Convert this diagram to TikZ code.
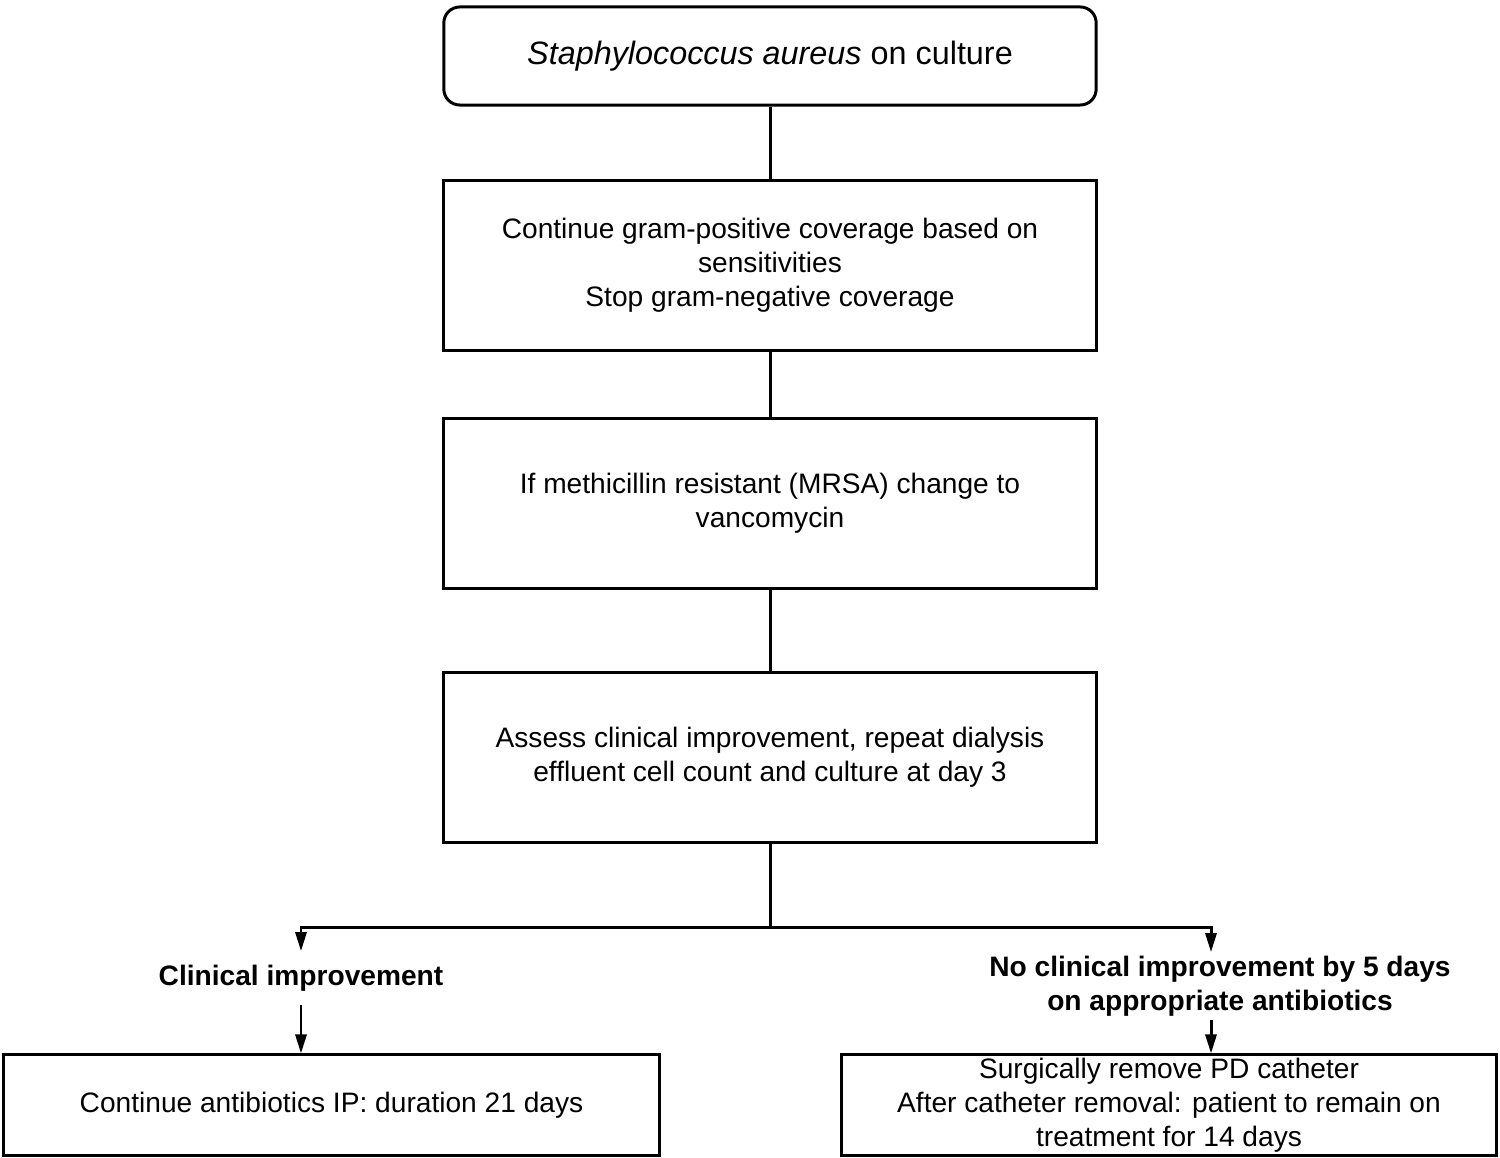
\documentclass[tikz,border=0pt]{standalone}
\usepackage{fontspec}
\setmainfont{Liberation Sans}
\usetikzlibrary{arrows.meta,calc}
\begin{document}
\begin{tikzpicture}[x=0.01cm,y=-0.01cm,
  box/.style={draw,line width=0.85pt,minimum width=6.52cm,align=center,inner sep=0pt,
    font=\fontsize{8pt}{9.67pt}\selectfont},
  lbl/.style={align=center,inner xsep=0pt,font=\bfseries\fontsize{8pt}{9.67pt}\selectfont},
  conn/.style={line width=0.85pt},
  arr/.style={line width=0.85pt,-{Triangle[length=0.19cm,width=0.11cm]}}]
\useasboundingbox (0,0) rectangle (1500,1158);
\node[box,rounded corners=0.16cm,minimum height=0.98cm,font=\fontsize{9.2pt}{11pt}\selectfont] (b1) at (770,56) {\textit{Staphylococcus aureus} on culture};
\node[box,minimum height=1.69cm] (b2) at (770,265.5) {Continue gram-positive coverage based on\\sensitivities\\Stop gram-negative coverage};
\node[box,minimum height=1.69cm] (b3) at (770,503.5) {If methicillin resistant (MRSA) change to\\vancomycin};
\node[box,minimum height=1.69cm] (b4) at (770,757.5) {Assess clinical improvement, repeat dialysis\\effluent cell count and culture at day 3};
\node[box,minimum width=6.55cm,minimum height=1.0cm] (b5) at (331.5,1105) {Continue antibiotics IP: duration 21 days};
\node[box,minimum width=6.54cm,minimum height=1.0cm] (b6) at (1169,1105) {Surgically remove PD catheter\\After catheter removal: patient to remain on\\treatment for 14 days};
\node[lbl,inner ysep=0.13cm] (ci) at (301,978) {Clinical improvement};
\node[lbl,inner ysep=0.03cm] (ni) at (1220,986) {No clinical improvement by 5 days\\on appropriate antibiotics};
\coordinate (split) at (770,927);
\draw[conn] (b1) -- (b2);
\draw[conn] (b2) -- (b3);
\draw[conn] (b3) -- (b4);
\draw[conn] (b4) -- (split);
\draw[arr] (split) -| (ci.north);
\draw[arr] (split) -| ([xshift=-0.09cm]ni.north);
\draw[arr] (ci.south) -- (ci.south |- b5.north);
\draw[arr] ([xshift=-0.09cm]ni.south) -- ([xshift=-0.09cm]ni.south |- b6.north);
\end{tikzpicture}
\end{document}
